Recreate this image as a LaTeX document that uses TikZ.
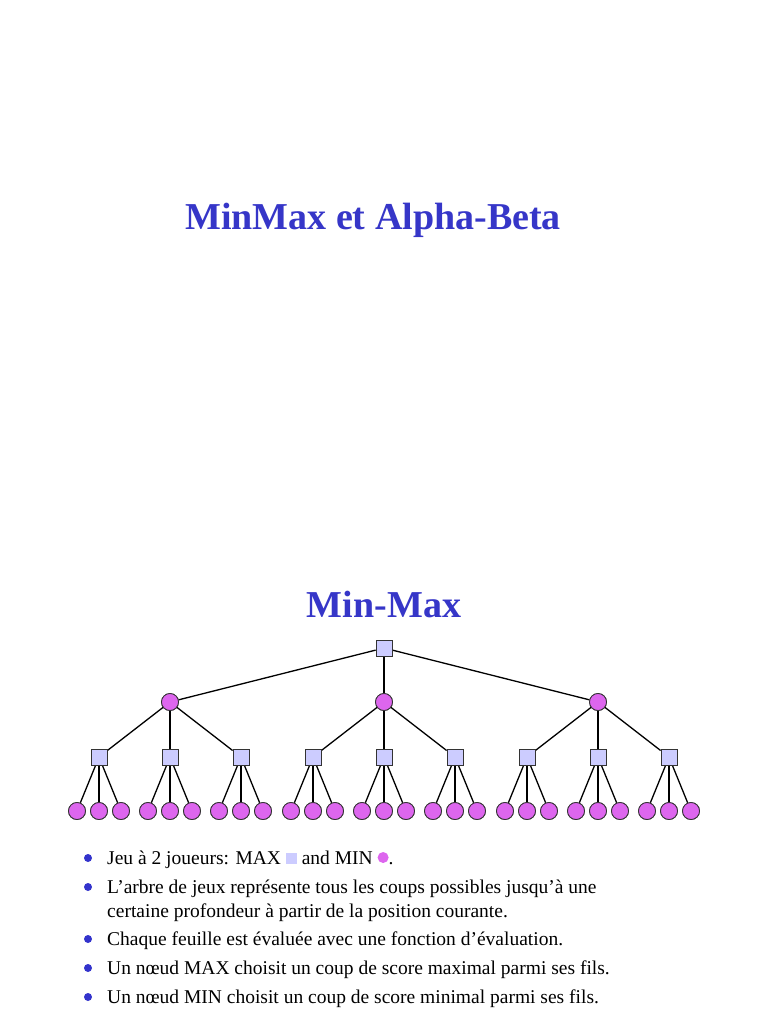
\documentclass[tikz,border=0pt]{standalone}
\usepackage{fontspec}
\setmainfont{Liberation Serif}
\definecolor{ttl}{HTML}{3636C8}
\definecolor{sq}{HTML}{CCCCFF}
\definecolor{ci}{HTML}{DD66EE}
\definecolor{bul}{HTML}{3333CC}
\begin{document}
\begin{tikzpicture}[x=1pt,y=-1pt,
  maxn/.style={draw=black!80,fill=sq,minimum size=16pt,inner sep=0pt,line width=0.8pt},
  minn/.style={circle,draw=black!80,fill=ci,minimum size=17pt,inner sep=0pt,line width=0.8pt},
  edge/.style={line width=1.3pt},
  title/.style={text=ttl,font=\bfseries\fontsize{38}{44}\selectfont},
  btxt/.style={anchor=base west,font=\fontsize{19.5}{23}\selectfont,inner sep=0pt},
  bdot/.style={circle,fill=bul,minimum size=8pt,inner sep=0pt}]
\useasboundingbox (0,0) rectangle (768,1024);
\node[title] (t1) at (373,220) {MinMax et Alpha-Beta};
\node[title] (t2) at (384,604) {Min-Max};
\node[maxn] (r) at (384,648) {};
\foreach \i/\x in {1/170,2/384,3/598}{
  \node[minn] (m\i) at (\x,702) {};
}
\foreach \i/\x/\p in {1/99/1,2/170/1,3/241/1,4/313/2,5/384/2,6/455/2,7/527/3,8/598/3,9/669/3}{
  \node[maxn] (a\i) at (\x,757) {};
  \foreach \j/\d in {1/-22,2/0,3/22}{
    \node[minn] (l\i\j) at (\x+\d,811) {};
  }
}
\begin{scope}[on background layer/.style={}]
\end{scope}
\foreach \i in {1,2,3}{\draw[edge] (r) -- (m\i);}
\foreach \i/\p in {1/1,2/1,3/1,4/2,5/2,6/2,7/3,8/3,9/3}{
  \draw[edge] (m\p) -- (a\i);
  \foreach \j in {1,2,3}{\draw[edge] (a\i) -- (l\i\j);}
}
% redraw nodes on top
\node[maxn] at (r) {};
\foreach \i in {1,2,3}{\node[minn] at (m\i) {};}
\foreach \i in {1,...,9}{\node[maxn] at (a\i) {};
  \foreach \j in {1,2,3}{\node[minn] at (l\i\j) {};}}
% bullets
\foreach \n/\y in {1/864,2/893,3/945,4/974,5/1003}{\node[bdot] (d\n) at (88,\y-6) {};}
\node[btxt] (b1) at (107,864) {Jeu à 2 joueurs: MAX \textcolor{sq}{\rule{11pt}{11pt}} and MIN \textcolor{ci}{\raisebox{1pt}{\tikz\fill (0,0) circle (5.5pt);}}.};
\node[btxt] (b2) at (107,893) {L’arbre de jeux représente tous les coups possibles jusqu’à une};
\node[btxt] (b2b) at (107,917) {certaine profondeur à partir de la position courante.};
\node[btxt] (b3) at (107,945) {Chaque feuille est évaluée avec une fonction d’évaluation.};
\node[btxt] (b4) at (107,974) {Un nœud MAX choisit un coup de score maximal parmi ses fils.};
\node[btxt] (b5) at (107,1003) {Un nœud MIN choisit un coup de score minimal parmi ses fils.};
\end{tikzpicture}
\end{document}
